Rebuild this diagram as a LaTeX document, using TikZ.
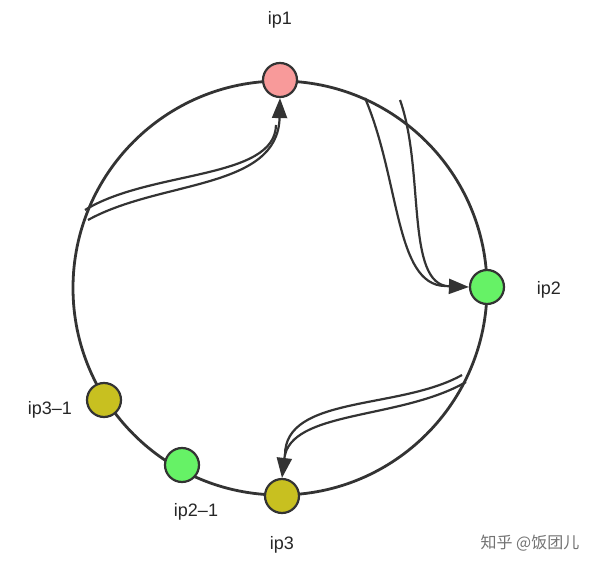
\documentclass[tikz,border=0pt]{standalone}
\usepackage{fontspec}
\setmainfont{Liberation Sans}
\newfontfamily\cjk{Noto Sans CJK SC}
\usetikzlibrary{arrows.meta}
\definecolor{ln}{HTML}{333333}
\definecolor{pk}{HTML}{F89A9A}
\definecolor{gr}{HTML}{66F266}
\definecolor{ol}{HTML}{C8C020}
\begin{document}
\begin{tikzpicture}[x=1pt,y=-1pt,
  srv/.style={circle,draw=ln,line width=2.2pt,minimum size=34pt,inner sep=0pt},
  lab/.style={font=\fontsize{18}{21}\selectfont,text=black!85},
  flow/.style={draw=ln,line width=2.2pt},
  tip/.style={-{Triangle[length=20pt,width=15pt]}}]
\useasboundingbox (0,0) rectangle (600,567);
\fill[white] (0,0) rectangle (600,567);
\node[circle,draw=ln,line width=2.8pt,minimum size=414pt,inner sep=0pt] (ring) at (280,288) {};
\node[srv,fill=pk] (ip1) at (280,80) {};
\node[srv,fill=gr] (ip2) at (487,287) {};
\node[srv,fill=ol] (ip3) at (282,496) {};
\node[srv,fill=gr] (ip21) at (182,465) {};
\node[srv,fill=ol] (ip31) at (104,400) {};
\node[lab] (l1) at (280,20) {ip1};
\node[lab] (l2) at (549,290) {ip2};
\node[lab] (l3) at (282,545) {ip3};
\node[lab] (l21) at (196,512) {ip2--1};
\node[lab] (l31) at (50,410) {ip3--1};
\node[font=\cjk\fontsize{16}{19}\selectfont,text=black!55] (wm) at (530,543) {知乎 @饭团儿};
% arrow to ip1
\coordinate (a1) at (85,210); \coordinate (a2) at (88,220);
\draw[flow] (a1) .. controls (150,170) and (275,180) .. (276,125);
\draw[flow,tip] (a2) .. controls (160,180) and (278,190) .. (ip1.south);
% arrow to ip2
\coordinate (b1) at (365,98); \coordinate (b2) at (400,100);
\draw[flow] (b1) .. controls (400,180) and (395,285) .. (445,286);
\draw[flow,tip] (b2) .. controls (425,170) and (405,285) .. (ip2.west);
% arrow to ip3
\coordinate (c1) at (462,375); \coordinate (c2) at (466,382);
\draw[flow] (c1) .. controls (400,410) and (285,395) .. (285,455);
\draw[flow,tip] (c2) .. controls (400,420) and (290,410) .. (ip3.north);
\end{tikzpicture}
\end{document}
